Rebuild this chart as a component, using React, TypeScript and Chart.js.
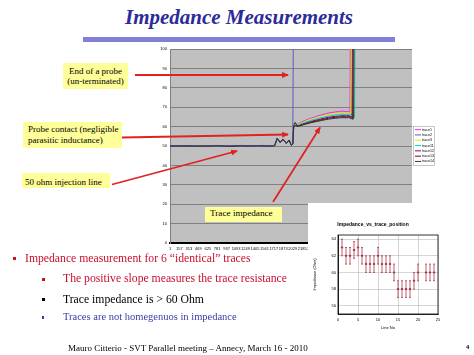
import React, { useEffect, useRef } from "react";
import { Chart, registerables } from "chart.js";
Chart.register(...registerables);

// ---------- main chart data (sample index -> impedance, Ohm) ----------
const sampleIndex = [
  1, 130, 260, 390, 520, 650, 780, 910, 1040, 1170,
  1300, 1430, 1560, 1690, 1730, 1772, 1822, 1871, 1921, 1970,
  2004, 2030, 2045, 2070, 2103, 2150, 2200, 2260, 2320, 2380,
  2440, 2500, 2560, 2620, 2680, 2740, 2800, 2860, 2920, 2950,
  2975, 2990, 3005, 3020, 3035, 3050, 3065, 3080, 3990,
];
const traceNames = ["trace1", "trace2", "trace3", "trace11", "trace12", "trace13", "trace14"];
const traceColors = ["#ff22dd", "#5a5ad0", "#e6e600", "#00d4d4", "#800080", "#800000", "#2a3a3a"];
const traceDrawOrder = [5, 1, 4, 3, 6, 2, 0];

const trace1 = [
  50.0, 50.2, 49.9, 50.1, 50.0, 49.8, 50.2, 50.0, 50.1, 49.9, 50.1, 50.0, 49.9, 50.2,
  50.1, 53.5, 52.0, 53.0, 51.8, 52.6, 50.8, 51.0,
  60.5, 61.8, 61.0, 62.0, 62.8, 63.5, 64.2, 64.8, 65.5, 66.0, 66.5, 67.0, 67.3, 67.6, 67.8, 68.0, 67.7, 67.9, 67.4,
  150, 150, 150, 150, 150, 150, 150, 150,
];
const trace2 = [
  50.1, 49.9, 50.2, 50.0, 49.8, 50.1, 50.0, 49.9, 50.2, 50.0, 49.9, 50.1, 50.0, 50.1,
  50.3, 53.8, 51.9, 53.2, 51.6, 52.8, 50.6, 51.2,
  150, 150, 150, 150, 150, 150, 150, 150, 150, 150, 150, 150, 150, 150,
  150, 150, 150, 150, 150, 150, 150, 150, 150, 150, 150, 150, 150,
];
const trace3 = [
  49.9, 50.0, 50.1, 49.9, 50.2, 50.0, 49.9, 50.1, 50.0, 50.2, 49.8, 50.1, 50.0, 49.9,
  50.2, 53.6, 51.7, 53.3, 51.4, 52.9, 50.4, 51.1,
  60.2, 61.5, 60.8, 61.6, 62.3, 63.0, 63.7, 64.2, 64.8, 65.3, 65.8, 66.2, 66.5, 66.8, 67.0, 67.1, 67.0, 67.2, 66.9, 66.6,
  150, 150, 150, 150, 150, 150, 150,
];
const trace11 = [
  50.0, 49.9, 50.0, 50.2, 49.9, 50.1, 49.8, 50.0, 50.1, 49.9, 50.2, 49.9, 50.1, 50.0,
  50.0, 53.3, 51.8, 53.1, 51.7, 52.7, 50.7, 50.9,
  60.0, 61.2, 60.5, 61.2, 61.9, 62.5, 63.1, 63.6, 64.1, 64.6, 65.0, 65.4, 65.7, 66.0, 66.1, 66.3, 66.2, 66.4, 66.1, 65.9, 65.8, 65.6, 65.2, 64.8,
  150, 150, 150,
];
const trace12 = [
  50.1, 50.0, 49.8, 50.1, 50.0, 50.2, 49.9, 50.1, 49.9, 50.0, 50.1, 49.8, 50.0, 50.1,
  50.2, 53.7, 51.6, 53.4, 51.5, 53.0, 50.5, 51.0,
  59.8, 60.9, 60.3, 60.9, 61.5, 62.1, 62.6, 63.1, 63.6, 64.0, 64.4, 64.8, 65.1, 65.3, 65.5, 65.6, 65.5, 65.7, 65.4, 65.2, 65.0,
  150, 150, 150, 150, 150, 150,
];
const trace13 = [
  49.9, 50.1, 50.0, 49.8, 50.1, 49.9, 50.1, 50.0, 49.8, 50.1, 50.0, 50.2, 49.9, 50.0,
  50.1, 53.9, 52.1, 53.5, 51.3, 53.1, 50.5, 51.1,
  59.6, 60.6, 60.1, 60.6, 61.1, 61.7, 62.2, 62.7, 63.1, 63.5, 63.9, 64.3, 64.6, 64.8, 65.0, 65.1, 65.0, 65.2, 64.9, 64.6, 64.4, 64.2,
  150, 150, 150, 150, 150,
];
const trace14 = [
  50.0, 49.9, 50.1, 50.0, 49.9, 50.0, 50.1, 49.9, 50.0, 50.1, 49.9, 50.0, 50.1, 49.9,
  50.2, 54.0, 51.8, 53.5, 51.4, 53.0, 50.3, 51.0,
  60.8, 62.2, 60.4, 60.4, 60.9, 61.4, 61.9, 62.3, 62.7, 63.1, 63.5, 63.8, 64.1, 64.3, 64.5, 64.6, 64.5, 64.7, 64.4, 64.2, 64.0, 63.8, 64.0,
  150, 150, 150, 150,
];
const traceValues = [trace1, trace2, trace3, trace11, trace12, trace13, trace14];

const mainXTicks = [
  1, 157, 313, 469, 625, 781, 937, 1093, 1249, 1405, 1561, 1717, 1873, 2029, 2185,
  2341, 2497, 2653, 2809, 2965, 3121, 3277, 3433, 3589, 3745, 3901,
];
const mainYTicks = [0, 10, 20, 30, 40, 50, 60, 70, 80, 90, 100];

// ---------- inset chart data ----------
const lineNo = [1, 2, 3, 4, 5, 6, 7, 8, 9, 10, 11, 12, 13, 14, 15, 16, 17, 18, 19, 20, 22, 23, 24];
const lineImpedance = [63, 62, 62, 62.7, 63, 62, 61, 61, 61, 62, 61, 61, 61, 60, 58, 58, 58, 58, 59, 60, 60, 60, 60];
const lineImpedanceErr = [1, 1, 1, 1, 1, 1, 1, 1, 1, 1, 1, 1, 1, 1, 1, 1, 1, 1, 1, 1, 1, 1, 1];
const insetXTicks = [0, 5, 10, 15, 20, 25];
const insetYTicks = [56, 58, 60, 62, 64];

const SANS = '"Liberation Sans", Arial, sans-serif';
const SERIF = '"Liberation Serif", "Times New Roman", serif';

const plotBgPlugin = {
  id: "plotBg",
  beforeDraw(chart: any) {
    const { ctx, chartArea } = chart;
    ctx.save();
    ctx.fillStyle = "#c0c0c0";
    ctx.fillRect(chartArea.left, chartArea.top, chartArea.right - chartArea.left, chartArea.bottom - chartArea.top);
    ctx.restore();
  },
};

const excelLegendPlugin = {
  id: "excelLegend",
  afterDraw(chart: any) {
    const { ctx, chartArea } = chart;
    const ds = chart.data.datasets;
    const rowH = 5.3;
    const w = 21;
    const h = ds.length * rowH + 2;
    const x0 = Math.round(chartArea.right) + 1;
    const y0 = Math.round((chartArea.top + chartArea.bottom) / 2 - h / 2);
    ctx.save();
    ctx.fillStyle = "#ffffff";
    ctx.fillRect(x0, y0, w, h);
    ctx.strokeStyle = "#a0a0a0";
    ctx.lineWidth = 0.6;
    ctx.strokeRect(x0 + 0.5, y0 + 0.5, w, h);
    ds.forEach((d: any, i: number) => {
      const y = y0 + 1 + rowH * (i + 0.5);
      ctx.strokeStyle = d.borderColor;
      ctx.lineWidth = 1;
      ctx.beginPath();
      ctx.moveTo(x0 + 2, y);
      ctx.lineTo(x0 + 8, y);
      ctx.stroke();
      ctx.fillStyle = "#000";
      ctx.font = "3.6px " + SANS;
      ctx.textBaseline = "middle";
      ctx.fillText(d.label, x0 + 9, y);
    });
    ctx.restore();
  },
};

const errorBarPlugin = {
  id: "errorBars",
  afterDatasetsDraw(chart: any) {
    const { ctx } = chart;
    const xs = chart.scales.x;
    const ys = chart.scales.y;
    ctx.save();
    ctx.strokeStyle = "#b03848";
    ctx.lineWidth = 0.8;
    lineNo.forEach((n, i) => {
      const px = xs.getPixelForValue(n);
      const yt = ys.getPixelForValue(lineImpedance[i] + lineImpedanceErr[i]);
      const yb = ys.getPixelForValue(lineImpedance[i] - lineImpedanceErr[i]);
      const yc = ys.getPixelForValue(lineImpedance[i]);
      ctx.beginPath();
      ctx.moveTo(px, yt);
      ctx.lineTo(px, yb);
      ctx.moveTo(px - 1, yt);
      ctx.lineTo(px + 1, yt);
      ctx.moveTo(px - 1, yb);
      ctx.lineTo(px + 1, yb);
      ctx.moveTo(px - 1.2, yc);
      ctx.lineTo(px + 1.2, yc);
      ctx.stroke();
    });
    ctx.restore();
  },
};

const framePlugin = {
  id: "frame",
  afterDraw(chart: any) {
    const { ctx, chartArea } = chart;
    ctx.save();
    ctx.strokeStyle = "#000";
    ctx.lineWidth = 0.8;
    ctx.strokeRect(chartArea.left, chartArea.top, chartArea.right - chartArea.left, chartArea.bottom - chartArea.top);
    ctx.restore();
  },
};

function T(props: {
  x: number;
  base: number;
  size: number;
  color?: string;
  bold?: boolean;
  italic?: boolean;
  center?: boolean;
  children: React.ReactNode;
}) {
  const L = Math.round(props.size * 1.3);
  const top = props.base - L / 2 - 0.3375 * props.size;
  return (
    <div
      style={{
        position: "absolute",
        left: props.x,
        top,
        fontSize: props.size,
        lineHeight: `${L}px`,
        color: props.color || "#000",
        fontWeight: props.bold ? "bold" : "normal",
        fontStyle: props.italic ? "italic" : "normal",
        whiteSpace: "nowrap",
        fontFamily: SERIF,
        transform: props.center ? "translateX(-50%)" : undefined,
      }}
    >
      {props.children}
    </div>
  );
}

function Box(props: { x: number; y: number; w: number; h: number }) {
  return (
    <div
      style={{
        position: "absolute",
        left: props.x,
        top: props.y,
        width: props.w,
        height: props.h,
        background: "#ffff99",
      }}
    />
  );
}

function Sq(props: { x: number; y: number; w: number; h: number; c: string }) {
  return (
    <div style={{ position: "absolute", left: props.x, top: props.y, width: props.w, height: props.h, background: props.c }} />
  );
}

export default function App() {
  const mainRef = useRef<HTMLCanvasElement>(null);
  const insetRef = useRef<HTMLCanvasElement>(null);

  useEffect(() => {
    const main = new Chart(mainRef.current as HTMLCanvasElement, {
      type: "line",
      data: {
        datasets: traceNames.map((name, k) => ({
          label: name,
          data: sampleIndex.map((x, i) => ({ x, y: traceValues[k][i] })),
          borderColor: traceColors[k],
          backgroundColor: traceColors[k],
          borderWidth: 1,
          pointRadius: 0,
          tension: 0,
          fill: false,
          order: traceDrawOrder[k],
        })),
      },
      options: {
        animation: false,
        responsive: false,
        events: [],
        layout: { padding: { left: 0, right: 28, top: 9, bottom: 0 } },
        plugins: { legend: { display: false }, tooltip: { enabled: false }, title: { display: false } },
        scales: {
          x: {
            type: "linear",
            min: 1,
            max: 4000,
            afterBuildTicks: (s: any) => {
              s.ticks = mainXTicks.map((v) => ({ value: v }));
            },
            afterFit: (s: any) => {
              s.height = 17;
            },
            grid: { display: false, drawTicks: false },
            border: { display: true, color: "#000", width: 2 },
            ticks: {
              autoSkip: false,
              maxRotation: 0,
              padding: 3,
              color: "#000",
              font: { size: 4, family: SANS },
              callback: (v: any) => String(v),
            },
          },
          y: {
            min: 0,
            max: 100,
            afterBuildTicks: (s: any) => {
              s.ticks = mainYTicks.map((v) => ({ value: v }));
            },
            afterFit: (s: any) => {
              s.width = 30;
            },
            grid: { color: "#808080", lineWidth: 1, drawTicks: false },
            border: { display: true, color: "#808080", width: 1 },
            ticks: { padding: 3, color: "#000", font: { size: 4, family: SANS } },
          },
        },
      } as any,
      plugins: [plotBgPlugin, excelLegendPlugin],
    });

    const inset = new Chart(insetRef.current as HTMLCanvasElement, {
      type: "scatter",
      data: {
        datasets: [
          {
            label: "Impedance",
            data: lineNo.map((x, i) => ({ x, y: lineImpedance[i] })),
            pointRadius: 1,
            pointBackgroundColor: "#7a1020",
            pointBorderWidth: 0,
            showLine: false,
          },
        ],
      },
      options: {
        animation: false,
        responsive: false,
        events: [],
        layout: { padding: { left: 0, right: 36, top: 0, bottom: 0 } },
        plugins: {
          legend: { display: false },
          tooltip: { enabled: false },
          title: {
            display: true,
            text: "Impedance_vs_trace_position",
            color: "#000",
            font: { size: 5, weight: "bold", family: SANS },
            padding: { top: 19, bottom: 7 },
          },
        },
        scales: {
          x: {
            type: "linear",
            min: 0,
            max: 25,
            afterBuildTicks: (s: any) => {
              s.ticks = insetXTicks.map((v) => ({ value: v }));
            },
            afterFit: (s: any) => {
              s.height = 17;
            },
            grid: { color: "#b8b8b8", lineWidth: 0.6, drawTicks: false },
            border: { display: true, color: "#000", width: 0.8 },
            ticks: { padding: 3, color: "#000", font: { size: 4, family: SANS } },
            title: {
              display: true,
              text: "Line No",
              color: "#000",
              font: { size: 4, family: SANS },
              padding: { top: 0, bottom: 1 },
            },
          },
          y: {
            min: 55,
            max: 64.5,
            afterBuildTicks: (s: any) => {
              s.ticks = insetYTicks.map((v) => ({ value: v }));
            },
            afterFit: (s: any) => {
              s.width = 30;
            },
            grid: { color: "#b8b8b8", lineWidth: 0.6, drawTicks: false },
            border: { display: true, color: "#000", width: 0.8 },
            ticks: { padding: 2, color: "#000", font: { size: 4, family: SANS } },
            title: {
              display: true,
              text: "Impedance (Ohm)",
              color: "#000",
              font: { size: 4, family: SANS },
              padding: { top: 4, bottom: 0 },
            },
          },
        },
      } as any,
      plugins: [errorBarPlugin, framePlugin],
    });

    return () => {
      main.destroy();
      inset.destroy();
    };
  }, []);

  const red = "#e02222";
  const arrows = [
    [135, 75, 288, 75],
    [122, 137.5, 288, 134.5],
    [112, 184.5, 237, 151],
    [273, 202, 320, 127.5],
  ];

  return (
    <div
      style={{
        position: "fixed",
        left: 0,
        top: 0,
        width: 474,
        height: 355,
        background: "#fff",
        overflow: "hidden",
        fontFamily: SERIF,
      }}
    >
      <T x={239} base={25} size={21} bold italic center color="#2b2b99">
        Impedance Measurements
      </T>
      <div style={{ position: "absolute", left: 83, top: 37, width: 312, height: 5, background: "#8080d6" }} />

      <canvas
        ref={mainRef}
        width={300}
        height={220}
        style={{ position: "absolute", left: 140, top: 40, width: 300, height: 220 }}
      />

      <div style={{ position: "absolute", left: 308, top: 203, width: 166, height: 128, background: "#fff" }}>
        <canvas ref={insetRef} width={166} height={128} style={{ width: 166, height: 128, display: "block" }} />
      </div>

      <Box x={63} y={63} w={65} h={26} />
      <T x={95.5} base={74} size={9} center>End of a probe</T>
      <T x={95.5} base={84.3} size={9} center>(un-terminated)</T>

      <Box x={23} y={122} w={99} h={26} />
      <T x={28} base={132.3} size={9}>Probe contact (negligible</T>
      <T x={28} base={143.3} size={9}>parasitic inductance)</T>

      <Box x={22} y={173} w={88} h={15} />
      <T x={25} base={185} size={9}>50 ohm injection line</T>

      <Box x={205} y={207} w={77} h={15} />
      <T x={210} base={216.5} size={9.2}>Trace impedance</T>

      <svg
        width={474}
        height={355}
        style={{ position: "absolute", left: 0, top: 0, pointerEvents: "none" }}
      >
        <defs>
          <marker id="ah" markerWidth="7" markerHeight="6" refX="6" refY="3" orient="auto" markerUnits="userSpaceOnUse">
            <path d="M0,0 L7,3 L0,6 z" fill={red} />
          </marker>
        </defs>
        {arrows.map((a, i) => (
          <line key={i} x1={a[0]} y1={a[1]} x2={a[2]} y2={a[3]} stroke={red} strokeWidth={1.8} markerEnd="url(#ah)" />
        ))}
      </svg>

      <Sq x={13} y={257} w={3.4} h={3.4} c="#cc1122" />
      <T x={25} base={262.5} size={11.7} color="#c8102e">
        Impedance measurement for 6 “identical” traces
      </T>
      <Sq x={42} y={278} w={2.6} h={3} c="#cc1122" />
      <T x={63} base={282.7} size={11.7} color="#c8102e">
        The positive slope measures the trace resistance
      </T>
      <Sq x={42} y={297.5} w={2.6} h={3} c="#000" />
      <T x={63} base={303} size={11.7} color="#000">
        Trace impedance is &gt; 60 Ohm
      </T>
      <Sq x={42} y={316} w={2.4} h={2.8} c="#3a3aa8" />
      <T x={63} base={321} size={10.5} color="#3a3aa8">
        Traces are not homegenuos in impedance
      </T>

      <T x={68} base={351} size={9}>
        Mauro Citterio - SVT Parallel meeting – Annecy, March 16 - 2010
      </T>
      <T x={466} base={349.5} size={6.5} bold>
        4
      </T>
    </div>
  );
}
